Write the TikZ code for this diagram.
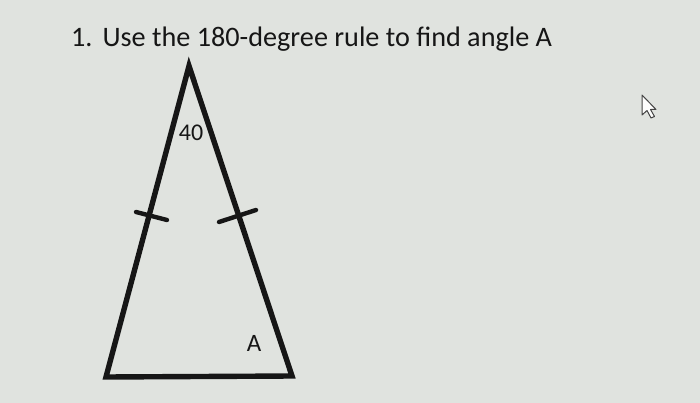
\documentclass[tikz,border=0pt]{standalone}
\usepackage{fontspec}
\setmainfont{Carlito}
\definecolor{bg}{RGB}{224,227,223}
\definecolor{ink}{RGB}{22,22,22}
\begin{document}
\begin{tikzpicture}[x=1pt,y=-1pt,
  side/.style={draw=ink,line width=5.4pt,line join=miter},
  tick/.style={draw=ink,line width=4.4pt,line cap=round},
  lbl/.style={text=ink,inner sep=0pt,font=\fontsize{24}{24}\selectfont}]
\fill[bg] (0,0) rectangle (700,403);
\useasboundingbox (0,0) rectangle (700,403);
\node[anchor=base west,text=ink,inner sep=0pt,font=\fontsize{28.2}{28.2}\selectfont] (title) at (71,47) {1.\hspace{10pt}Use the 180-degree rule to find angle A};
\coordinate (T) at (189,66);
\coordinate (L) at (106,377);
\coordinate (R) at (292,376);
\draw[side] (T) -- (L) -- (R) -- cycle;
\coordinate (t1a) at (136,212);
\coordinate (t1b) at (167,220);
\coordinate (t2a) at (219,222);
\coordinate (t2b) at (256,210);
\draw[tick] (t1a) -- (t1b);
\draw[tick] (t2a) -- (t2b);
\node[lbl] (a40) at (191,133) {40};
\node[lbl,font=\fontsize{25}{25}\selectfont] (angA) at (254,343) {A};
\draw[fill=white!92!bg,draw=ink!80,line width=1pt,line join=round]
  (642,95) -- (642,115) -- (647,110.5) -- (651,118) -- (654.5,116.5) -- (650.5,109.5) -- (656,109.5) -- cycle;
\end{tikzpicture}
\end{document}
